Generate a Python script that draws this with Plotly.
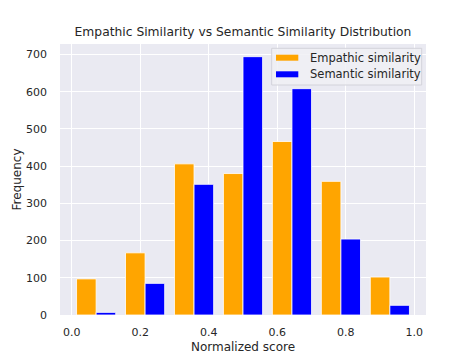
import plotly.graph_objects as go

# Data (7 bins over [0, 1])
bin_edges = [0.0, 1/7, 2/7, 3/7, 4/7, 5/7, 6/7, 1.0]
empathic_counts = [97, 167, 406, 380, 466, 359, 102]
semantic_counts = [7, 85, 351, 694, 608, 204, 26]
series_names = ["Empathic similarity", "Semantic similarity"]
series_colors = ["orange", "blue"]
x_ticks = [0.0, 0.2, 0.4, 0.6, 0.8, 1.0]
x_tick_labels = ["0.0", "0.2", "0.4", "0.6", "0.8", "1.0"]
y_ticks = [0, 100, 200, 300, 400, 500, 600, 700]

bin_centers = [(a + b) / 2 for a, b in zip(bin_edges[:-1], bin_edges[1:])]

FONT = "DejaVu Sans"
TEXT = "#262626"
W, H = 474, 355
ML, MR, MT, MB = 60, 48, 44, 40
PW, PH = W - ML - MR, H - MT - MB


def fx(px):
    return (px - ML) / PW


def fy(py):
    return (H - MB - py) / PH


fig = go.Figure()
for name, vals, col in zip(series_names, [empathic_counts, semantic_counts], series_colors):
    fig.add_trace(go.Bar(
        x=bin_centers, y=vals, name=name,
        marker=dict(color=col, line=dict(color="white", width=0.8)),
        showlegend=False,
    ))

# Custom legend (matplotlib-style) drawn in paper coordinates
shapes = [dict(type="rect", xref="paper", yref="paper",
               x0=fx(271.7), x1=fx(421.7), y0=fy(85), y1=fy(48.3),
               fillcolor="rgba(240,240,245,0.85)", line=dict(color="#D2D2DA", width=1),
               layer="above")]
annotations = []
row_y = [57.7, 74.3]
for name, col, ry in zip(series_names, series_colors, row_y):
    shapes.append(dict(type="rect", xref="paper", yref="paper",
                       x0=fx(276), x1=fx(298.3), y0=fy(ry + 3), y1=fy(ry - 3),
                       fillcolor=col, line=dict(width=0), layer="above"))
    annotations.append(dict(text=name, xref="paper", yref="paper",
                            x=fx(307.7), y=fy(ry), xanchor="left", yanchor="middle",
                            showarrow=False, font=dict(size=11.5, color=TEXT, family=FONT)))

fig.update_layout(
    width=W, height=H,
    paper_bgcolor="white", plot_bgcolor="#EAEAF2",
    barmode="group", bargap=0.2, bargroupgap=0,
    margin=dict(l=ML, r=MR, t=MT, b=MB, pad=0, autoexpand=False),
    font=dict(family=FONT, color=TEXT, size=11),
    title=dict(text="Empathic Similarity vs Semantic Similarity Distribution",
               x=0.5, xref="paper", xanchor="center",
               y=(H - 32) / H, yref="container", yanchor="middle",
               font=dict(size=12.3, color=TEXT, family=FONT)),
    shapes=shapes, annotations=annotations,
    showlegend=False,
)

fig.update_xaxes(
    range=[-0.034, 1.034], tickvals=x_ticks, ticktext=x_tick_labels,
    showgrid=True, gridcolor="white", gridwidth=1, zeroline=False,
    showline=False, ticks="", ticklabelstandoff=9, automargin=False,
    tickfont=dict(size=11, color=TEXT, family=FONT),
    title=dict(text="Normalized score", font=dict(size=12, color=TEXT, family=FONT), standoff=4),
)
fig.update_yaxes(
    range=[0, 728], tickvals=y_ticks,
    showgrid=True, gridcolor="white", gridwidth=1, zeroline=False,
    showline=False, ticks="", ticklabelstandoff=12, automargin=False,
    tickfont=dict(size=11, color=TEXT, family=FONT),
    title=dict(text="Frequency", font=dict(size=12, color=TEXT, family=FONT), standoff=1),
)

fig.write_html("out.html", config={"displayModeBar": False},
               post_script="document.body.style.margin='0';")
